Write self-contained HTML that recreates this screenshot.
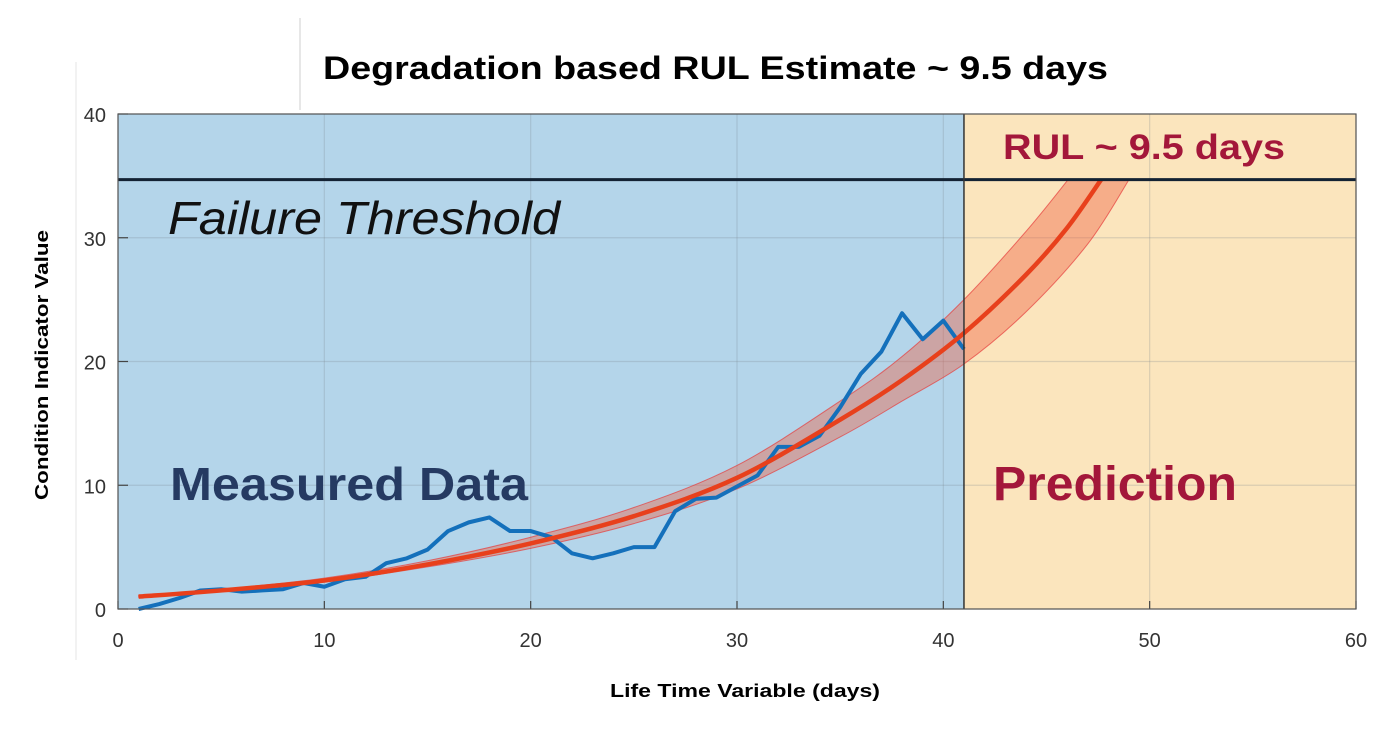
<!DOCTYPE html>
<html><head><meta charset="utf-8"><style>
html,body{margin:0;padding:0;background:#fff;width:1400px;height:732px;overflow:hidden}
text{font-family:"Liberation Sans",Arial,sans-serif}
</style></head><body>
<svg id="chart" width="1400" height="732" viewBox="0 0 1400 732">
<line x1="76" y1="62" x2="76" y2="660" stroke="#e6e6e6"/>
<line x1="300" y1="18" x2="300" y2="110" stroke="#cfcfcf"/>
<text x="323" y="79" textLength="785" lengthAdjust="spacingAndGlyphs" font-size="32" font-weight="bold" fill="#000">Degradation based RUL Estimate ~ 9.5 days</text>
<g id="plot"></g>
<text x="610" y="697" textLength="270" lengthAdjust="spacingAndGlyphs" font-size="18" font-weight="bold" fill="#000">Life Time Variable (days)</text>
<text transform="translate(48,500) rotate(-90)" textLength="270" lengthAdjust="spacingAndGlyphs" font-size="18" font-weight="bold" fill="#000">Condition Indicator Value</text>
</svg>
<script>
const days=[1,2,3,4,5,6,7,8,9,10,11,12,13,14,15,16,17,18,19,20,21,22,23,24,25,26,27,28,29,30,31,32,33,34,35,36,37,38,39,40,41];
const measured=[0,0.4,0.9,1.5,1.6,1.4,1.5,1.6,2.1,1.8,2.4,2.6,3.7,4.1,4.8,6.3,7.0,7.4,6.3,6.3,5.8,4.5,4.1,4.5,5.0,5.0,7.9,8.9,9.0,9.9,10.8,13.1,13.1,14.0,16.3,19.0,20.8,23.9,21.8,23.3,21.0];
const fitDays=[1,5,10,15,20,25,30,35,38,41,44,46,47.65];
const fitValues=[1.0,1.5,2.3,3.6,5.3,7.5,10.6,15.3,18.5,22.3,27.0,30.8,34.7];
const upperDays=[1,5,10,15,20,25,30,35,38,41,44,46.05];
const upperValues=[1.1,1.6,2.5,3.9,5.8,8.2,11.6,16.8,20.4,25.0,30.5,34.7];
const lowerDays=[1,5,10,15,20,25,30,35,38,41,44,47,49];
const lowerValues=[0.95,1.4,2.2,3.4,4.9,6.9,9.7,13.9,16.8,19.8,24.0,29.5,34.7];
const xTicks=[0,10,20,30,40,50,60];
const yTicks=[0,10,20,30,40];
const threshold=34.7;
const predictionStart=41;

const L=118,R=1356,T=114,B=609;
const sx=v=>L+(v-0)/60*(R-L);
const sy=v=>B-(v-0)/40*(B-T);
const NS='http://www.w3.org/2000/svg';
const g=document.getElementById('plot');
function mk(tag,attrs,parent){const e=document.createElementNS(NS,tag);for(const k in attrs)e.setAttribute(k,attrs[k]);(parent||g).appendChild(e);return e;}
function smooth(pts){
  let d='M'+pts[0][0]+','+pts[0][1];
  for(let i=0;i<pts.length-1;i++){
    const p0=pts[i-1]||pts[i],p1=pts[i],p2=pts[i+1],p3=pts[i+2]||p2;
    const c1=[p1[0]+(p2[0]-p0[0])/6,p1[1]+(p2[1]-p0[1])/6];
    const c2=[p2[0]-(p3[0]-p1[0])/6,p2[1]-(p3[1]-p1[1])/6];
    d+=' C'+c1+' '+c2+' '+p2;
  }
  return d;
}

let e=mk('rect',{x:L,y:T,width:sx(predictionStart)-L,height:B-T,fill:'#b4d5ea'});


e=mk('rect',{x:sx(predictionStart),y:T,width:R-sx(predictionStart),height:B-T,fill:'#fbe5bd'});



xTicks.forEach(t=>{
  e=mk('line',{x1:sx(t),x2:sx(t),y1:T,y2:B,stroke:'rgba(120,130,140,0.25)','stroke-width':1.2});
  
  
  e=mk('line',{x1:sx(t),x2:sx(t),y1:B,y2:B-8,stroke:'#444','stroke-width':1.2});
  
  
  e=mk('text',{x:sx(t),y:B+38,'text-anchor':'middle','font-size':20,fill:'#333'});
  e.textContent=t;
  
  
});
yTicks.forEach(t=>{
  e=mk('line',{x1:L,x2:R,y1:sy(t),y2:sy(t),stroke:'rgba(120,130,140,0.25)','stroke-width':1.2});
  
  
  e=mk('line',{x1:L,x2:L+10,y1:sy(t),y2:sy(t),stroke:'#444','stroke-width':1.2});
  
  
  e=mk('text',{x:L-12,y:sy(t)+8,'text-anchor':'end','font-size':20,fill:'#333'});
  e.textContent=t;
  
  
});

// confidence band
const upPts=upperDays.map((d,i)=>[sx(d),sy(upperValues[i])]);
const loPts=lowerDays.map((d,i)=>[sx(d),sy(lowerValues[i])]).reverse();
const bandD=smooth(upPts)+' L'+loPts[0][0]+','+loPts[0][1]+' '+smooth(loPts).replace(/^M[^ ]+/,'')+' Z';
e=mk('path',{d:bandD,fill:'rgba(240,90,60,0.4)',stroke:'rgba(230,60,60,0.7)','stroke-width':1});



e=mk('polyline',{points:days.map((d,i)=>sx(d)+','+sy(measured[i])).join(' '),fill:'none',stroke:'#1470bb','stroke-width':4,'stroke-linejoin':'round'});



e=mk('path',{d:smooth(fitDays.map((d,i)=>[sx(d),sy(fitValues[i])])),fill:'none',stroke:'#e8401c','stroke-width':4.5});



e=mk('line',{x1:L,x2:R,y1:sy(threshold),y2:sy(threshold),stroke:'#132233','stroke-width':3});


e=mk('line',{x1:sx(predictionStart),x2:sx(predictionStart),y1:T,y2:B,stroke:'#333','stroke-width':1.5});


e=mk('rect',{x:L,y:T,width:R-L,height:B-T,fill:'none',stroke:'#555','stroke-width':1.2});



function label(txt,x,y,size,color,name,len,italic){
  const t=mk('text',{x:x,y:y,'font-size':size,fill:color,'font-weight':italic?'normal':'bold','font-style':italic?'italic':'normal',textLength:len,lengthAdjust:'spacingAndGlyphs'});
  t.textContent=txt;
  
  
}
label('Failure Threshold',168,234,46,'#111','failure-threshold-label',392,true);
label('Measured Data',170,500,46,'#253a62','measured-data-label',358);
label('Prediction',993,500,48,'#a3173a','prediction-label',244);
label('RUL ~ 9.5 days',1003,159,35,'#a3173a','rul-label',282);
</script>
</body></html>
